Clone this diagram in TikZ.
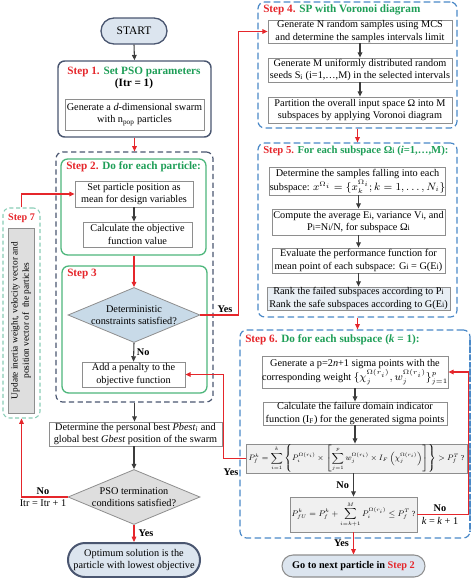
\documentclass[tikz,border=0pt]{standalone}
\usepackage{fontspec}
\setmainfont{Liberation Serif}
\usepackage{amsmath}
\usepackage{graphicx}
\usetikzlibrary{arrows.meta,shapes.geometric,shapes.misc,calc}

\definecolor{sred}{HTML}{E5262B}
\definecolor{sgreen}{HTML}{1E9E57}
\definecolor{gbox}{HTML}{4DB67B}
\definecolor{navy}{HTML}{4A5670}
\definecolor{bdash}{HTML}{4A88C7}
\definecolor{tdash}{HTML}{88CDB6}
\definecolor{boxgray}{HTML}{8E8E8E}
\definecolor{pillfill}{HTML}{DCE5EF}
\definecolor{detfill}{HTML}{C8DAE8}
\definecolor{psofill}{HTML}{DEDEDE}
\definecolor{rankfill}{HTML}{E8EEF4}
\definecolor{formfill}{HTML}{F0F0F0}
\definecolor{arrgray}{HTML}{3C3C3C}

\newcommand\fs{\fontsize{7.7}{9.2}\selectfont}
\newcommand\ft{\fontsize{8.4}{10}\selectfont\bfseries}
\newcommand\stp[2]{{\ft\color{sred}#1 \color{sgreen}#2}}
\newcommand\sm[1]{{\fontsize{6}{6}\selectfont #1}}

\begin{document}
\begin{tikzpicture}[x=0.75pt,y=-0.75pt,font=\fs,
  wh/.style 2 args={minimum width=#1*0.75pt,minimum height=#2*0.75pt},
  box/.style={draw=boxgray,line width=0.6pt,fill=white,align=center,inner sep=0pt},
  grp/.style={rounded corners=5pt,line width=0.9pt,inner sep=0pt},
  navygrp/.style={grp,draw=navy,dash pattern=on 4pt off 2.5pt},
  greengrp/.style={grp,draw=gbox,line width=1pt},
  bluegrp/.style={grp,draw=bdash,dash pattern=on 5pt off 2.5pt},
  pill/.style={rounded rectangle,draw=navy,line width=1pt,fill=pillfill,inner sep=0pt,align=center},
  dia/.style={diamond,draw=boxgray,line width=0.6pt,inner sep=0pt},
  ttl/.style={anchor=west,inner sep=0pt},
  ra/.style={draw=sred,line width=0.8pt,-{Triangle[length=4pt,width=3.5pt]}},
  ka/.style={draw=arrgray,line width=0.8pt,-{Triangle[length=4pt,width=3.5pt]}},
  lab/.style={font=\fs\bfseries,inner sep=0pt},
  txt/.style={inner sep=0pt,align=center}]
\useasboundingbox (0,0) rectangle (474,578);

% ---------- left column ----------
\node[pill,wh={66}{26},font=\fontsize{8.6}{10}\selectfont] (start) at (134,31) {START};

\node[grp,draw=navy,line width=1.1pt,wh={153}{76}] (s1) at (134.5,99) {};
\node[txt] (s1t) at (134,72) {\stp{Step 1.}{Set PSO parameters}};
\node[txt,font=\ft] (s1i) at (134,84) {(Itr = 1)};
\node[box,wh={139}{31}] (gen) at (134.5,114.5) {Generate a \textit{d}-dimensional swarm\\with n\textsubscript{pop} particles};

\node[navygrp,wh={157}{250}] (outer) at (134.5,277) {};
\node[greengrp,wh={145}{96}] (s2) at (133.5,207) {};
\node[ttl] (s2t) at (66,167) {\stp{Step 2.}{Do for each particle:}};
\node[box,wh={118}{26}] (s2a) at (134,194) {Set particle position as\\mean for design variables};
\node[box,wh={109}{25}] (s2b) at (137.5,234.5) {Calculate the objective\\function value};

\node[greengrp,wh={145}{127}] (s3) at (134.5,329.5) {};
\node[ttl] (s3t) at (67,274) {\stp{Step 3}{}};
\node[dia,fill=detfill,wh={132}{55}] (det) at (134,315) {};
\node[txt] (detT) at (det.center) {Deterministic\\constraints satisfied?};
\node[box,wh={103}{25}] (pen) at (133.5,374.5) {Add a penalty to the\\objective function};

\node[box,wh={173}{24}] (best) at (135.5,434) {Determine the personal best \textit{Pbest}\textsubscript{\textit{i}} and\\global best \textit{Gbest} position of the swarm};
\node[dia,fill=psofill,wh={132}{55}] (pso) at (134,497) {};
\node[txt] (psoT) at (pso.center) {PSO termination\\conditions satisfied?};
\node[pill,line width=1.5pt,wh={132}{34}] (opt) at (134,560) {Optimum solution is the\\particle with lowest objective};

% Step 7
\node[grp,draw=tdash,dash pattern=on 3pt off 2pt,line width=0.8pt,wh={37}{210}] (s7) at (21.5,313) {};
\node[txt,font=\fontsize{7.6}{9}\selectfont\bfseries,text=sred] (s7t) at (21.5,218) {Step 7};
\node[box,fill=psofill,wh={185}{26},rotate=90,font=\fontsize{7}{8.4}\selectfont] (s7b) at (21,320.5) {Update inertia weight, velocity vector and\\position vector of \ the particles};

% ---------- right column ----------
\node[bluegrp,wh={199}{126}] (s4) at (357.5,65) {};
\node[ttl] (s4t) at (263,10) {\stp{Step 4.}{SP with Voronoi diagram}};
\node[box,wh={184}{23}] (A) at (360,31.5) {Generate N random samples using MCS\\and determine the samples intervals limit};
\node[box,wh={184}{24}] (B) at (360,70) {Generate M uniformly distributed random\\seeds S\textsubscript{i} (i=1,…,M) in the selected intervals};
\node[box,wh={184}{26}] (C) at (360,110) {Partition the overall input space Ω into M\\subspaces by applying Voronoi diagram};

\node[bluegrp,wh={199}{174}] (s5) at (357.5,230) {};
\node[ttl,font=\fontsize{8}{10}\selectfont\bfseries] (s5t) at (263,151) {\color{sred}Step 5. \color{sgreen}For each subspace Ω\sm{i} (\textit{i}=1,…,M):};
\node[box,wh={173}{28}] (D) at (357.5,181) {Determine the samples falling into each\\subspace: $x^{\Omega_i}=\{x_k^{\Omega_i};k=1,\ldots,N_i\}$};
\node[box,wh={173}{26}] (E) at (358.5,222) {Compute the average E\sm{i}, variance V\sm{i}, and\\P\sm{i}=N\sm{i}/N, for subspace Ω\sm{i}};
\node[box,wh={173}{25}] (F) at (358.5,260.5) {Evaluate the performance function for\\mean point of each subspace: G\sm{i} = G(E\sm{i})};
\node[box,fill=rankfill,wh={183}{23}] (G) at (358.5,298.5) {Rank the failed subspaces according to P\sm{i}\\Rank the safe subspaces according to G(E\sm{i})};

\node[bluegrp,wh={230}{208}] (s6) at (355,434) {};
\draw[bdash,line width=2.2pt,dash pattern=on 4pt off 1.5pt] (470,340) -- (470,531);
\node[ttl] (s6t) at (245,340) {\stp{Step 6.}{Do for each subspace (\textit{k} = 1):}};
\node[box,wh={184}{32}] (H) at (355,372) {Generate a p=2\textit{n}+1 sigma points with the\\corresponding weight $\{\chi_j^{\Omega(r_i)},w_j^{\Omega(r_i)}\}_{j=1}^{p}$};
\node[box,wh={184}{23}] (I) at (355,413.5) {Calculate the failure domain indicator\\function (I\textsubscript{F}) for the generated sigma points};
\node[box,fill=formfill,wh={221}{29}] (J) at (356.5,458.5) {\scalebox{0.74}{$\displaystyle P_f^k=\sum_{i=1}^{k}\left\{P_i^{\Omega(r_i)}\times\left[\sum_{j=1}^{p}w_j^{\Omega(r_i)}\times I_F\left(\chi_j^{\Omega(r_i)}\right)\right]\right\}>P_f^T$ ?}};
\node[box,fill=formfill,wh={127}{35}] (K) at (353.5,514.5) {\scalebox{0.76}{$\displaystyle P_{fU}^k=P_f^k+\sum_{i=k+1}^{M}P_i^{\Omega(r_i)}\le P_f^T$ ?}};
\node[pill,draw=boxgray,line width=0.8pt,wh={143}{22}] (go) at (353.5,566) {\textbf{Go to next particle in \textcolor{sred}{Step 2}}};

% ---------- connectors ----------
\draw[ka] (start.south) -- (s1.north);
\draw[ra] (s1.south) -- (outer.north);
\draw[ka] (s2a.south) -- (s2a.south |- s2b.north);
\draw[ra] (det.north |- s2.south) -- (det.north);
\draw[ka] (det.south) -- node[lab,right=2pt] (no1) {No} (pen.north);
\draw[ka] (outer.south) -- (outer.south |- best.north);
\draw[ka] (pso.north |- best.south) -- (pso.north);
\draw[ra] (pso.south) -- node[lab,right=3pt] (yes3) {Yes} (opt.north);
\draw[ra] (pso.west) -| (s7.south);
\node[lab] (no2) at (43,491) {No};
\node[txt] (itr) at (43,503) {Itr = Itr + 1};
\draw[ra] (s7.north) |- (s2a.west);

\draw[ra] (det.east) -- ++(38,0) |- (A.west);
\node[lab] (yes1) at (225,309) {Yes};

\draw[ka] (A.south) -- (B.north);
\draw[ka] (B.south) -- (C.north);
\draw[ra] (s4.south) -- (s5.north);
\draw[ka] (D.south -| E.north) -- (E.north);
\draw[ka] (E.south) -- (F.north);
\draw[ka] (F.south) -- (G.north);
\draw[ra] (s5.south) -- (s5.south |- s6.north);
\draw[ka] (H.south) -- (I.north);
\draw[ka] (I.south) -- (I.south |- J.north);
\draw[ka] (K.north |- J.south) -- node[lab,left=3pt] (no3) {No} (K.north);
\draw[ra] (K.south) -- node[lab,left=3pt] (yes4) {Yes} (go.north);
\draw[ra] (K.east) -- ++(51,0) |- (H.east);
\node[lab] (no4) at (440,508) {No};
\node[txt] (kk) at (440,521) {\textit{k} = \textit{k} + 1};
\draw[ra] (J.west) -- ++(-22,0) |- (pen.east);
\node[lab] (yes2) at (231,472) {Yes};
\end{tikzpicture}
\end{document}
